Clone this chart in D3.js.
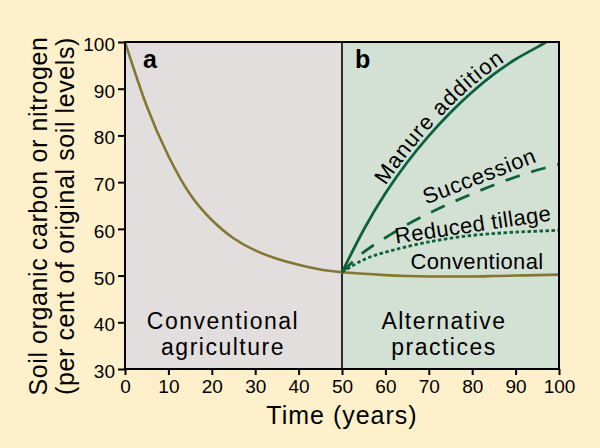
<!DOCTYPE html>
<html><head><meta charset="utf-8">
<script src="https://cdn.jsdelivr.net/npm/d3@7"></script>
<style>
body{margin:0;background:#FEF0CB;}
svg text{font-family:"Liberation Sans",Arial,Helvetica,sans-serif;fill:#000;}
</style>
</head><body>
<svg id="c" width="600" height="448"></svg>
<script>
// ---- data ----
const yearsA = [0, 5, 10, 15, 20, 25, 30, 35, 40, 45, 50];
const conventionalA = [100, 86.3, 75.6, 67.4, 61.9, 58.0, 55.4, 53.6, 52.3, 51.3, 50.7];

const yearsB = [50, 55, 60, 65, 70, 75, 80, 85, 90, 95, 100];
const manureYears = [50, 55, 60, 65, 70, 75, 80, 85, 90, 95, 97];
const manure = [50.7, 59.8, 67.6, 74.2, 79.9, 84.9, 89.3, 93.1, 96.3, 98.9, 100];
const succession = [50.7, 55.0, 58.1, 60.9, 63.3, 65.5, 67.5, 69.4, 71.1, 72.6, 73.8];
const reducedTillage = [50.7, 53.4, 55.0, 56.2, 57.2, 58.0, 58.6, 59.0, 59.3, 59.5, 59.7];
const conventionalB = [50.7, 50.4, 50.1, 49.9, 49.8, 49.8, 49.8, 49.9, 50.0, 50.1, 50.2];

const xTicks = [0, 10, 20, 30, 40, 50, 60, 70, 80, 90, 100];
const yTicks = [30, 40, 50, 60, 70, 80, 90, 100];

// ---- layout ----
const svg = d3.select("#c");
const X0 = 125, X1 = 559, Y0 = 369, Y1 = 42;
const x = d3.scaleLinear().domain([0, 100]).range([X0, X1]);
const y = d3.scaleLinear().domain([30, 100]).range([Y0, Y1]);

const colGrey = "#E1DEDD", colGreen = "#D3E0D4";
const olive = "#857732", green = "#0D6139";

svg.append("rect").attr("width", 600).attr("height", 448).attr("fill", "#FEF0CB");

svg.append("rect").attr("x", x(0)).attr("y", y(100))
  .attr("width", x(50) - x(0)).attr("height", y(30) - y(100)).attr("fill", colGrey);
svg.append("rect").attr("x", x(50)).attr("y", y(100))
  .attr("width", x(100) - x(50)).attr("height", y(30) - y(100)).attr("fill", colGreen);

const defs = svg.append("defs");
defs.append("clipPath").attr("id", "plot")
  .append("rect").attr("x", x(0)).attr("y", y(100))
  .attr("width", x(100) - x(0)).attr("height", y(30) - y(100));

// panel divider
svg.append("line").attr("x1", x(50)).attr("x2", x(50)).attr("y1", y(100)).attr("y2", y(30))
  .attr("stroke", "#000").attr("stroke-width", 1.6);

const line = d3.line().curve(d3.curveNatural);
const g = svg.append("g").attr("clip-path", "url(#plot)");

function draw(xs, ys, color, dash, w) {
  g.append("path")
    .attr("d", line(xs.map((v, i) => [x(v), y(ys[i])])))
    .attr("fill", "none").attr("stroke", color).attr("stroke-width", w)
    .attr("stroke-dasharray", dash);
}
draw(yearsA, conventionalA, olive, null, 2.6);
draw(yearsB, conventionalB, olive, null, 2.6);
draw(yearsB, reducedTillage, green, "3.5,2.5", 2.8);
draw(yearsB, succession, green, "15,12", 2.8);
draw(manureYears, manure, green, null, 2.8);

// frame
svg.append("rect").attr("x", x(0)).attr("y", y(100))
  .attr("width", x(100) - x(0)).attr("height", y(30) - y(100))
  .attr("fill", "none").attr("stroke", "#000").attr("stroke-width", 2);

// axes
const ax = svg.append("g").attr("transform", `translate(0,${Y0})`)
  .call(d3.axisBottom(x).tickValues(xTicks).tickSize(6).tickPadding(5));
const ay = svg.append("g").attr("transform", `translate(${X0},0)`)
  .call(d3.axisLeft(y).tickValues(yTicks).tickSize(7).tickPadding(3));
[ax, ay].forEach(a => {
  a.select(".domain").remove();
  a.selectAll(".tick line").attr("stroke", "#000").attr("stroke-width", 2);
  a.selectAll(".tick text").style("font-size", "19px").attr("fill", "#000")
    .style("font-family", '"Liberation Sans",Arial,sans-serif');
});
ay.selectAll(".tick text").attr("dy", "0.45em");

// titles
svg.append("text").attr("x", x(50)).attr("y", 424).attr("text-anchor", "middle")
  .style("font-size", "25px").style("letter-spacing", "1px").text("Time (years)");

const yt = svg.append("text").attr("transform", "translate(47,216) rotate(-90)")
  .attr("text-anchor", "middle").style("font-size", "25px").style("letter-spacing", "0.6px");
yt.append("tspan").attr("x", 0).attr("y", 0).text("Soil organic carbon or nitrogen");
yt.append("tspan").attr("x", 0).attr("y", 27).text("(per cent of original soil levels)");

// panel letters
svg.append("text").attr("x", 143).attr("y", 68).style("font-size", "25px")
  .style("font-weight", "bold").text("a");
svg.append("text").attr("x", 355).attr("y", 68).style("font-size", "25px")
  .style("font-weight", "bold").text("b");

// panel descriptions
function block(cx, lines) {
  lines.forEach((s, i) => svg.append("text").attr("text-anchor", "middle")
    .style("font-size", "23px").style("letter-spacing", "1.5px")
    .attr("x", cx).attr("y", 329 + i * 26).text(s));
}
block(223, ["Conventional", "agriculture"]);
block(444, ["Alternative", "practices"]);

// curved label following the manure curve (offset up-left of it)
const mpts = manureYears.map((v, i) => [x(v), y(manure[i])]);
const off = 4;
const opts = mpts.map((p, i) => {
  const a = mpts[Math.max(0, i - 1)], b = mpts[Math.min(mpts.length - 1, i + 1)];
  const dx = b[0] - a[0], dy = b[1] - a[1], L = Math.hypot(dx, dy);
  return [p[0] + off * dy / L, p[1] - off * dx / L];
});
defs.append("path").attr("id", "manurePath").attr("d", line(opts));
svg.append("text").style("font-size", "22px").style("letter-spacing", "1.1px")
  .attr("text-anchor", "middle")
  .append("textPath").attr("href", "#manurePath").attr("startOffset", 184)
  .text("Manure addition");

// straight curve labels
function label(cx, cy, ang, s, ls) {
  svg.append("text").attr("transform", `translate(${cx},${cy}) rotate(${ang})`)
    .attr("text-anchor", "middle").style("font-size", "22px")
    .style("letter-spacing", ls + "px").text(s);
}
label(482, 183, -21, "Succession", 0.7);
label(474, 232, -8.4, "Reduced tillage", 0.4);
label(477, 269, 0, "Conventional", 0.4);
</script>
</body></html>
